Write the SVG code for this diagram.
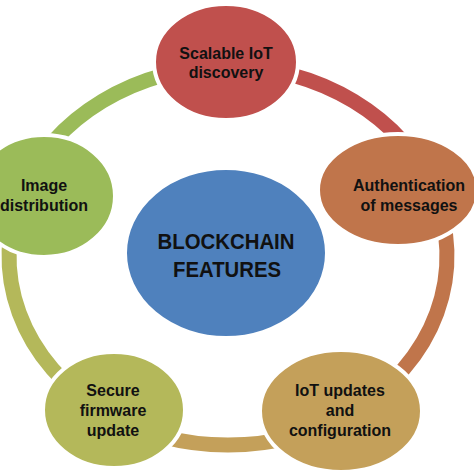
<svg xmlns="http://www.w3.org/2000/svg" width="474" height="474" viewBox="0 0 474 474">
<style>
.band{fill:none;stroke-width:15;stroke-linecap:butt}
.node{stroke:#fff;stroke-width:4}
.t{font-family:"Liberation Sans",Arial,sans-serif;font-weight:bold;font-size:16px;fill:#111;text-anchor:middle}
.tc{font-size:22px}
</style>
<rect width="474" height="474" fill="#fff"/>
<g id="connectors">
<path class="band" stroke="#C0504D" d="M228,67 A219,189 0 0 1 433.8,191.4"/>
<path class="band" stroke="#C0754B" d="M433.8,191.4 A219,189 0 0 1 353.6,410.8"/>
<path class="band" stroke="#C4A05A" d="M353.6,410.8 A219,189 0 0 1 102.4,410.8"/>
<path class="band" stroke="#B4B85A" d="M102.4,410.8 A219,189 0 0 1 22.2,191.4"/>
<path class="band" stroke="#9BBB59" d="M22.2,191.4 A219,189 0 0 1 228,67"/>
</g>
<g id="center">
<ellipse class="node" cx="226" cy="253" rx="101" ry="85" fill="#4F81BD"/>
<text class="t tc" x="226" y="249" textLength="137" lengthAdjust="spacingAndGlyphs">BLOCKCHAIN</text>
<text class="t tc" x="227" y="277" textLength="108" lengthAdjust="spacingAndGlyphs">FEATURES</text>
</g>
<g id="scalable">
<ellipse class="node" cx="226" cy="62" rx="72" ry="58" fill="#C0504D"/>
<text class="t" x="226" y="59">Scalable IoT</text>
<text class="t" x="226" y="78">discovery</text>
</g>
<g id="authentication">
<ellipse class="node" cx="398" cy="190" rx="80" ry="56" fill="#C0754B"/>
<text class="t" x="409" y="191">Authentication</text>
<text class="t" x="409" y="211">of messages</text>
</g>
<g id="iot-updates">
<ellipse class="node" cx="341" cy="411" rx="81" ry="61" fill="#C4A05A"/>
<text class="t" x="340" y="396">IoT updates</text>
<text class="t" x="340" y="416">and</text>
<text class="t" x="340" y="436">configuration</text>
</g>
<g id="secure-firmware">
<ellipse class="node" cx="114" cy="410" rx="71" ry="58" fill="#B4B85A"/>
<text class="t" x="113" y="396">Secure</text>
<text class="t" x="113" y="416">firmware</text>
<text class="t" x="113" y="436">update</text>
</g>
<g id="image-distribution">
<ellipse class="node" cx="44" cy="196" rx="71" ry="61" fill="#9BBB59"/>
<text class="t" x="44" y="191">Image</text>
<text class="t" x="44" y="211">distribution</text>
</g>
</svg>
